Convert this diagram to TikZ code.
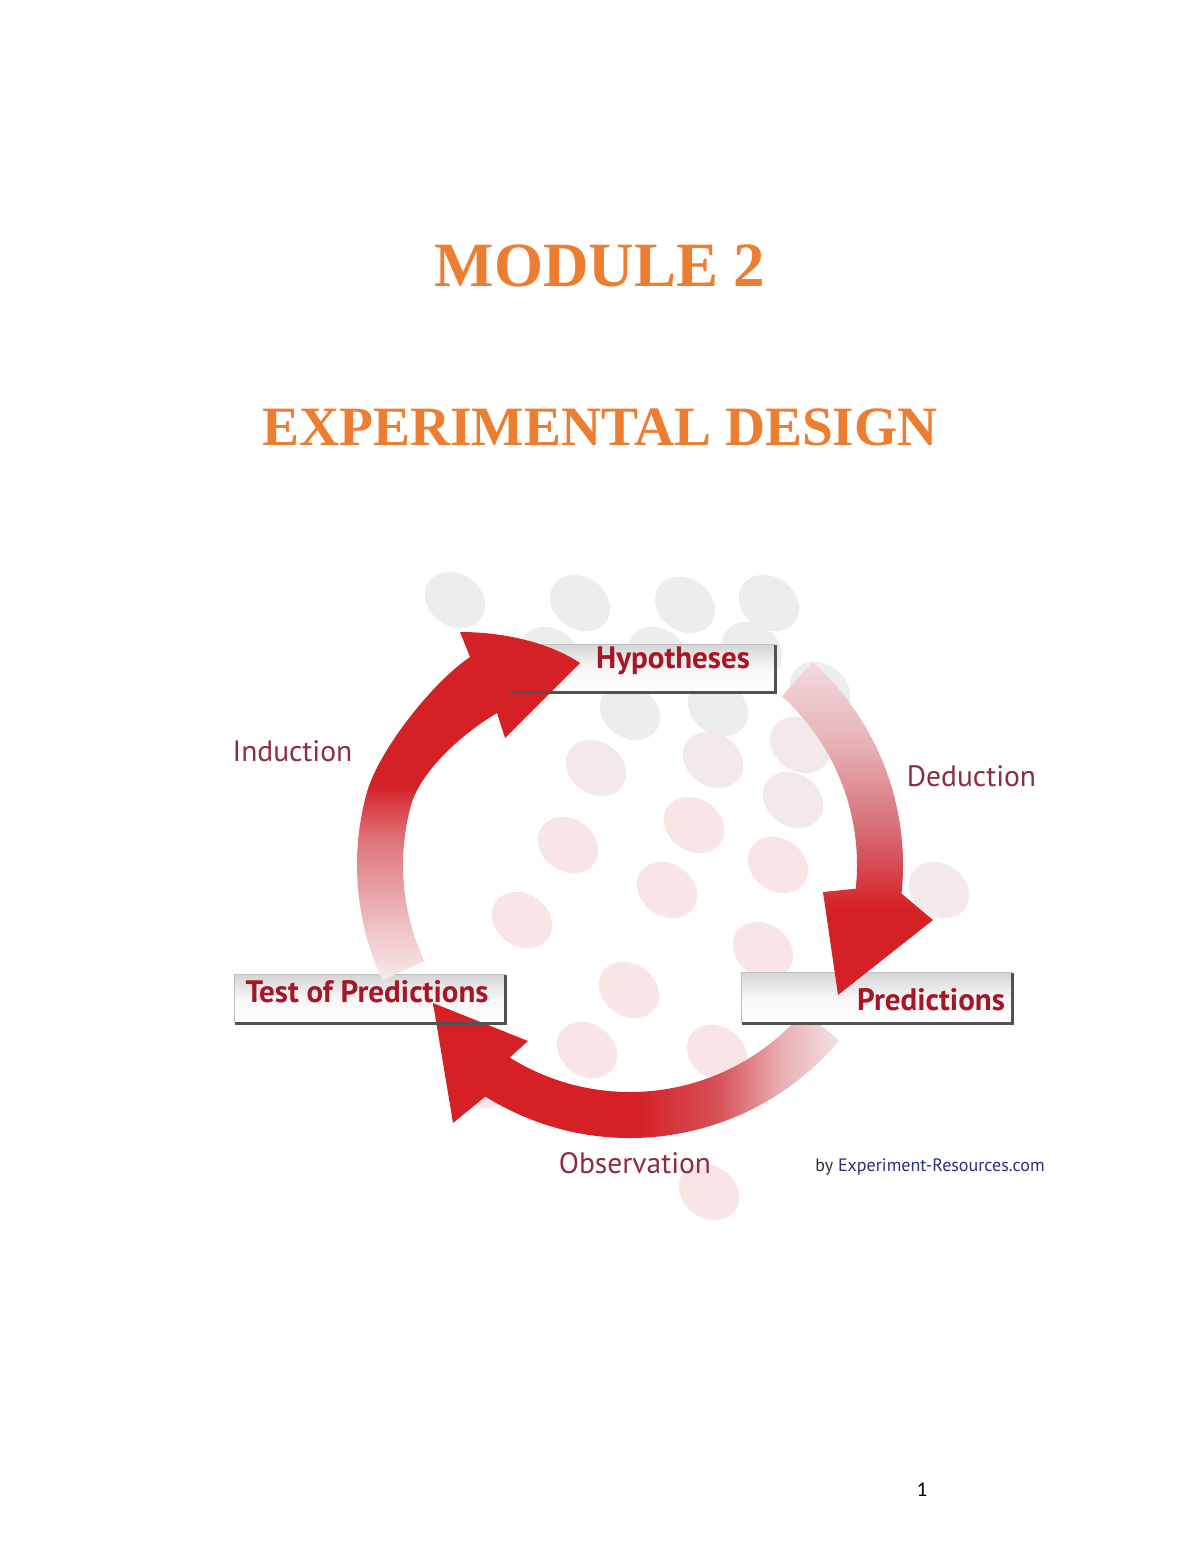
\documentclass[tikz,border=0pt]{standalone}
\usepackage{fontspec}
\setmainfont{Liberation Serif}
\newfontfamily\sansfam{PT Sans}
\newfontfamily\pagefont{Carlito}
\usetikzlibrary{calc}
\definecolor{titleorange}{RGB}{237,125,49}
\definecolor{arrowred}{RGB}{213,33,38}
\definecolor{boxtext}{RGB}{168,22,38}
\definecolor{labeltext}{RGB}{140,45,65}
\definecolor{linkblue}{RGB}{45,45,130}
\definecolor{creditgrey}{RGB}{50,50,50}
\definecolor{blobgrey}{RGB}{237,237,237}
\definecolor{blobmid}{RGB}{243,233,234}
\definecolor{blobpink}{RGB}{249,229,230}
\definecolor{fadeA}{RGB}{248,234,235}
\definecolor{fadeB}{RGB}{238,192,195}
\definecolor{fadeC}{RGB}{222,118,124}
\definecolor{dedA}{RGB}{242,218,220}
\definecolor{dedB}{RGB}{231,178,183}
\definecolor{dedC}{RGB}{214,110,118}
\definecolor{obsA}{RGB}{245,224,225}
\definecolor{obsB}{RGB}{233,176,180}
\definecolor{obsC}{RGB}{214,80,88}
\pgfdeclareverticalshading{indshade}{100bp}{color(0bp)=(fadeA); color(25bp)=(fadeA); color(33bp)=(fadeB); color(45bp)=(fadeC); color(53bp)=(arrowred); color(100bp)=(arrowred)}
\pgfdeclareverticalshading{dedshade}{100bp}{color(0bp)=(arrowred); color(38bp)=(arrowred); color(50bp)=(dedC); color(63bp)=(dedB); color(75bp)=(dedA); color(100bp)=(dedA)}
\pgfdeclarehorizontalshading{obsshade}{100bp}{color(0bp)=(arrowred); color(50bp)=(arrowred); color(60bp)=(obsC); color(68bp)=(obsB); color(75bp)=(obsA); color(100bp)=(obsA)}
\begin{document}
\begin{tikzpicture}[x=1pt,y=-1pt,
  titlestyle/.style={font=\bfseries\fontsize{63}{68}\selectfont, text=titleorange, inner sep=0pt, anchor=base},
  boxlabel/.style={font=\sansfam\bfseries\fontsize{31}{35}\selectfont, text=boxtext, inner sep=0pt, anchor=base},
  steplabel/.style={font=\sansfam\fontsize{29.5}{33}\selectfont, text=labeltext, inner sep=0pt, anchor=base},
  credit/.style={font=\sansfam\fontsize{18}{21}\selectfont, text=creditgrey, inner sep=0pt, anchor=base},
  cardbox/.style={draw=none, inner sep=0pt, top color=gray!32, bottom color=white, middle color=white!94!gray},
  boxlight/.style={draw=gray!50, line width=0.8pt},
  boxshadow/.style={draw=black!68, line width=2.6pt},
]
\useasboundingbox (0,0) rectangle (1200,1553);
\fill[white] (0,0) rectangle (1200,1553);
% background blobs
\foreach \x/\y/\c in {455/600/blobgrey, 580/603/blobgrey, 685/605/blobgrey, 769/603/blobgrey,
  550/655/blobgrey, 658/655/blobgrey, 752/650/blobgrey, 820/690/blobgrey, 630/712/blobgrey, 718/708/blobgrey,
  596/768/blobmid, 713/760/blobmid, 800/745/blobmid, 793/800/blobmid,
  694/825/blobpink, 568/845/blobpink, 778/865/blobpink, 667/890/blobpink, 522/920/blobpink,
  763/950/blobpink, 939/890/blobmid, 629/990/blobpink, 587/1050/blobpink, 717/1053/blobpink,
  480/1080/blobpink}
  {\fill[\c, rotate around={-35:(\x,\y)}] (\x,\y) ellipse[x radius=32pt, y radius=26pt];}
\begin{scope}
\clip (365,570) rectangle (1050,1226);
\fill[blobpink, rotate around={-35:(709,1192)}] (709,1192) ellipse[x radius=32pt, y radius=26pt];
\end{scope}
\coordinate (C) at (630,865);
% boxes (fills)
\node[cardbox, minimum width=270pt, minimum height=48pt] (testbox) at (370,999) {};
\draw[boxlight] (testbox.south west) -- (testbox.north west) -- (testbox.north east);
\node[cardbox, minimum width=265pt, minimum height=47pt] (hypbox) at (642.5,668.5) {};
\draw[boxlight] (hypbox.south west) -- (hypbox.north west) -- (hypbox.north east);
% induction arrow
\shade[shading=indshade] ($(C)+(155:273)$) arc[start angle=155, end angle=195, radius=273]
  .. controls (378,750.8) and (432.6,682.2) .. (470,657) -- (460,632)
  .. controls (505,632) and (550,643) .. (580,663) -- (505,738) -- (497,713)
  .. controls (460,735) and (419.8,772.4) .. ($(C)+(195:227)$)
  arc[start angle=195, end angle=155, radius=227] -- cycle;
% observation arrow
\shade[shading=obsshade] ($(C)+(40:273)$) arc[start angle=40, end angle=122, radius=273]
  -- (453,1123) -- (433,1003) -- (528,1041) -- ($(C)+(122:227)$)
  arc[start angle=122, end angle=40, radius=227] -- cycle;
% predictions box
\node[cardbox, minimum width=270pt, minimum height=50pt] (predbox) at (877,998) {};
\draw[boxlight] (predbox.south west) -- (predbox.north west) -- (predbox.north east);
% deduction arrow
\shade[shading=dedshade] ($(C)+(-48:273)$) arc[start angle=-48, end angle=6, radius=273]
  -- (933,920) -- (838,995) -- (823,892) -- ($(C)+(6:227)$)
  arc[start angle=6, end angle=-48, radius=227] -- cycle;
% box shadows
\foreach \b in {testbox,hypbox,predbox}
  {\draw[boxshadow] (\b.north east) -- (\b.south east) -- (\b.south west);}
% texts
\node[titlestyle] (mod) at (600,286) {MODULE 2};
\node[titlestyle, font=\bfseries\fontsize{55.5}{60}\selectfont] (exp) at (600,445) {EXPERIMENTAL DESIGN};
\node[boxlabel] (hyptext) at (673,668) {Hypotheses};
\node[boxlabel] (predtext) at (931,1010) {Predictions};
\node[boxlabel] (testtext) at (367,1002) {Test of Predictions};
\node[steplabel] (ind) at (292.5,761) {Induction};
\node[steplabel] (ded) at (971.5,786) {Deduction};
\node[steplabel] (obs) at (635,1173) {Observation};
\node[credit] (by) at (930,1171) {by \textcolor{linkblue}{Experiment-Resources.com}};
\node[font=\pagefont\fontsize{21}{24}\selectfont, inner sep=0pt, anchor=base] (pg) at (922,1496) {1};
\end{tikzpicture}
\end{document}
